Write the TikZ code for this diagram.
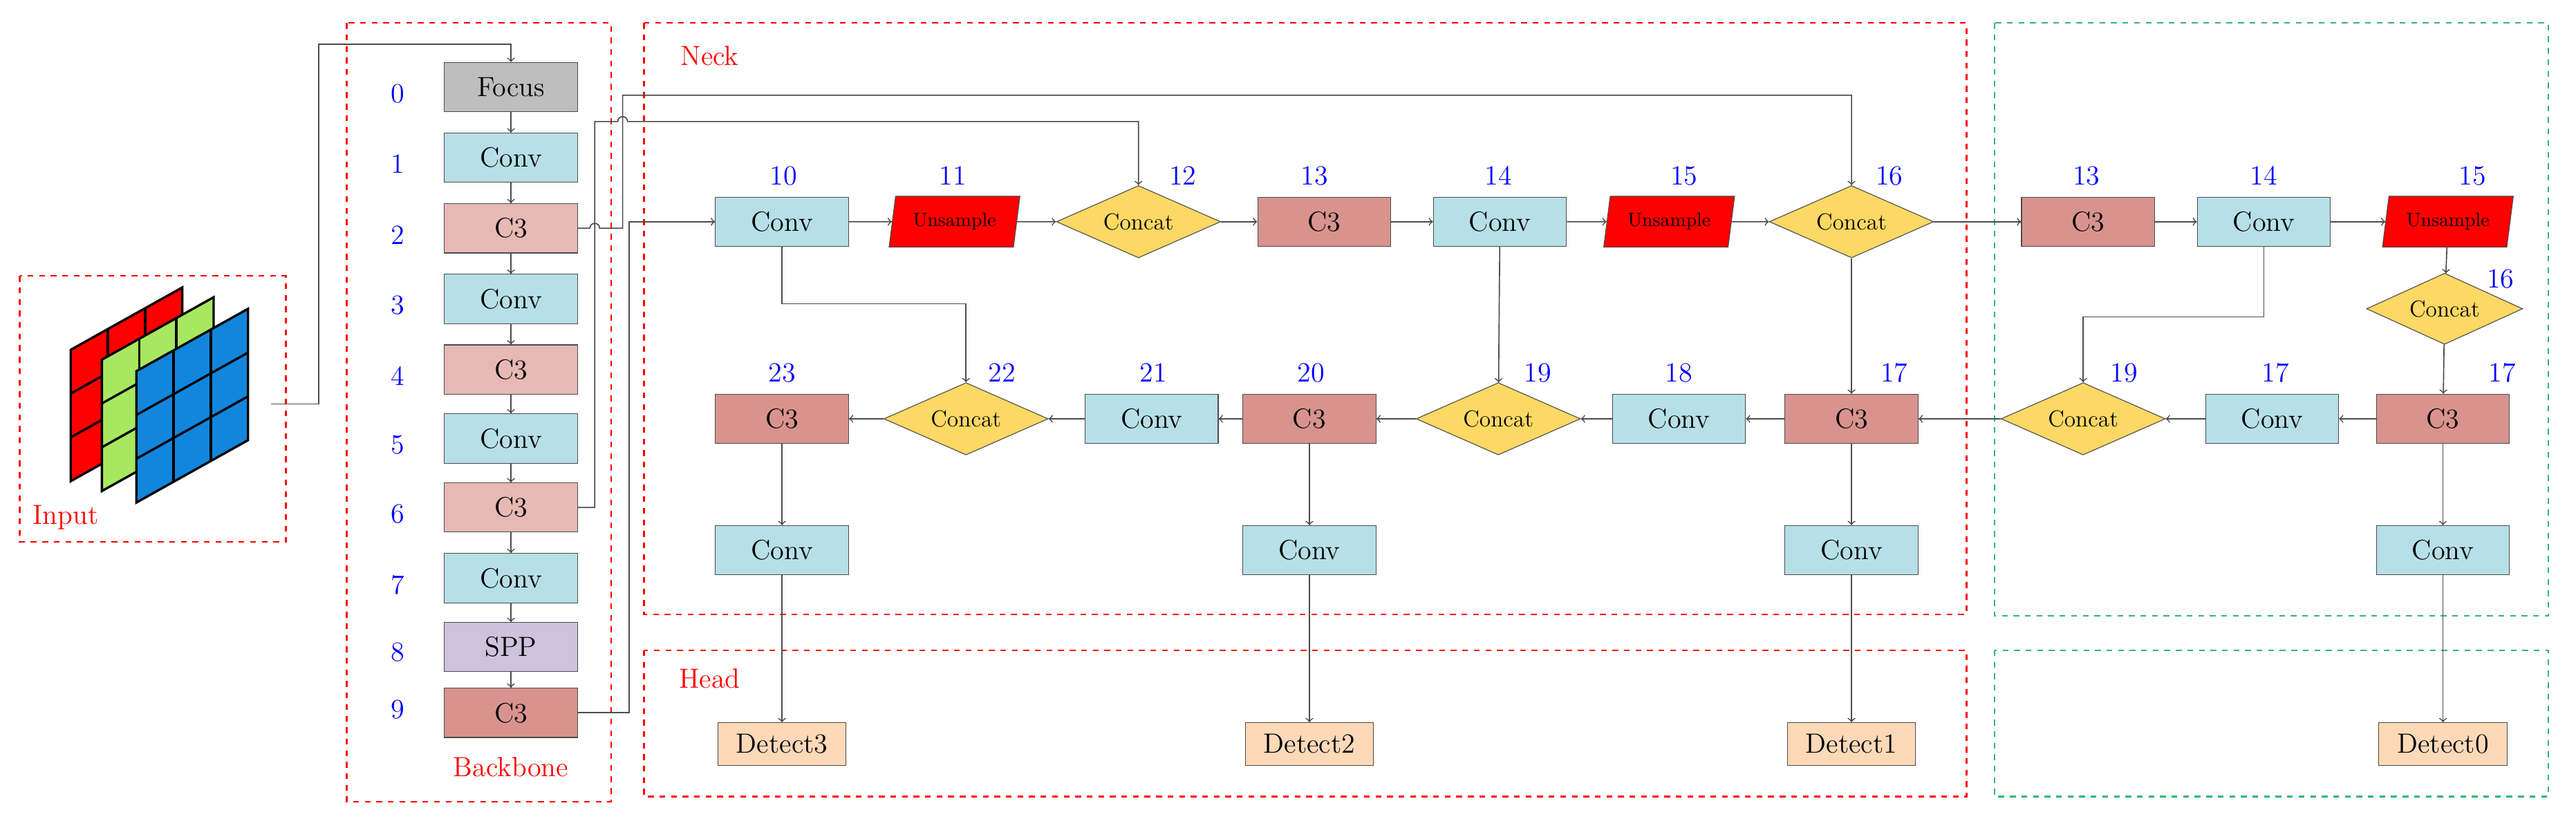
\documentclass[tikz,border=0pt]{standalone}
\usepackage{tikz}
\usetikzlibrary{shapes.geometric,arrows,calc}
\definecolor{convc}{HTML}{B7DFE8}
\definecolor{focc}{HTML}{BEBEBE}
\definecolor{cthree}{HTML}{E6B9B5}
\definecolor{cthreed}{HTML}{D8938E}
\definecolor{sppc}{HTML}{CDC3DC}
\definecolor{catc}{HTML}{FCD864}
\definecolor{detc}{HTML}{FDD9B8}
\definecolor{grnc}{HTML}{2EB872}
\definecolor{gridg}{HTML}{A8E860}
\definecolor{gridb}{HTML}{1286DC}
\tikzset{
  box/.style={draw=black!70, minimum width=2.43cm, minimum height=0.9cm, inner sep=0pt, font=\Large},
  conv/.style={box, fill=convc},
  cthr/.style={box, fill=cthree},
  cthrd/.style={box, fill=cthreed},
  cat/.style={diamond, draw=black!70, fill=catc, aspect=2.3, minimum width=3cm, minimum height=1.32cm, inner sep=0pt, font=\large},
  ups/.style={trapezium, trapezium left angle=75, trapezium right angle=105, trapezium stretches=true, draw=black!70, fill=red, minimum width=2.4cm, minimum height=0.93cm, inner sep=0pt, font=\normalsize},
  det/.style={box, fill=detc, minimum width=2.34cm, minimum height=0.78cm},
  num/.style={text=blue, font=\Large},
  lbl/.style={text=red, font=\Large},
  frame/.style={draw=red, dashed, line width=0.8pt},
  gframe/.style={draw=grnc, dashed, line width=0.8pt},
  line/.style={draw=black!70, line width=0.6pt, ->},
}
\begin{document}
\begin{tikzpicture}[x=0.03cm, y=-0.03cm]
\useasboundingbox (0,0) rectangle (1568,504);

% frames
\draw[frame] (12,168) rectangle (174,330);
\draw[frame] (211,14) rectangle (372,488);
\draw[frame] (392,14) rectangle (1197,374);
\draw[frame] (392,396) rectangle (1197,485);
\draw[gframe] (1214,14) rectangle (1551,375);
\draw[gframe] (1214,396) rectangle (1551,485);
\node[lbl] (linput) at (40,315) {Input};
\node[lbl] (lback) at (311,467) {Backbone};
\node[lbl] (lneck) at (432,34) {Neck};
\node[lbl] (lhead) at (432,413) {Head};

% input image
\foreach \ox/\oy/\col in {43/213/red, 62/219/gridg, 83/226/gridb}{
  \begin{scope}[shift={(\ox,\oy)}, x={(0.68cm,0.38cm)}, y={(0cm,-0.8cm)}]
    \draw[fill=\col, line width=1.2pt] (0,0) -- (3,0) -- (3,3) -- (0,3) -- cycle;
    \foreach \i in {1,2}{
      \draw[line width=1.2pt] (\i,0) -- (\i,3);
      \draw[line width=1.2pt] (0,\i) -- (3,\i);
    }
  \end{scope}
}
\coordinate (img) at (165,246);

% backbone
\node[box, fill=focc] (b0) at (311,53) {Focus};
\node[conv] (b1) at (311,96) {Conv};
\node[cthr] (b2) at (311,139) {C3};
\node[conv] (b3) at (311,182) {Conv};
\node[cthr] (b4) at (311,225) {C3};
\node[conv] (b5) at (311,267) {Conv};
\node[cthr] (b6) at (311,309) {C3};
\node[conv] (b7) at (311,352) {Conv};
\node[box, fill=sppc] (b8) at (311,394) {SPP};
\node[cthrd] (b9) at (311,434) {C3};
\foreach \i/\y in {0/57,1/100,2/143,3/186,4/229,5/271,6/313,7/356,8/397,9/432}{
  \node[num] (nb\i) at (242,\y) {\i};
}
\foreach \a/\b in {0/1,1/2,2/3,3/4,4/5,5/6,6/7,7/8,8/9}{
  \draw[line] (b\a) -- (b\b);
}
\draw[line] (img) -- (194,246) -- (194,27) -| (b0.north);

% neck top row
\node[conv] (n10) at (476,135) {Conv};
\node[ups] (n11) at (581,135) {Unsample};
\node[cat] (n12) at (693,135) {Concat};
\node[cthrd] (n13) at (806,135) {C3};
\node[conv] (n14) at (913,135) {Conv};
\node[ups] (n15) at (1016,135) {Unsample};
\node[cat] (n16) at (1127,135) {Concat};
% green top row
\node[cthrd] (g13) at (1271,135) {C3};
\node[conv] (g14) at (1378,135) {Conv};
\node[ups] (g15) at (1490,135) {Unsample};
\node[cat, minimum width=2.85cm, minimum height=1.3cm] (g16) at (1488,188) {Concat};
% bottom row
\node[cthrd] (n23) at (476,255) {C3};
\node[cat] (n22) at (588,255) {Concat};
\node[conv] (n21) at (701,255) {Conv};
\node[cthrd] (n20) at (797,255) {C3};
\node[cat] (n19) at (912,255) {Concat};
\node[conv] (n18) at (1022,255) {Conv};
\node[cthrd] (n17) at (1127,255) {C3};
\node[cat] (g19) at (1268,255) {Concat};
\node[conv] (g17) at (1383,255) {Conv};
\node[cthrd] (g17b) at (1487,255) {C3};
% head convs and detects
\node[conv] (h3) at (476,335) {Conv};
\node[conv] (h2) at (797,335) {Conv};
\node[conv] (h1) at (1127,335) {Conv};
\node[conv] (h0) at (1487,335) {Conv};
\node[det] (d3) at (476,453) {Detect3};
\node[det] (d2) at (797,453) {Detect2};
\node[det] (d1) at (1127,453) {Detect1};
\node[det] (d0) at (1487,453) {Detect0};

% layer numbers
\node[num] (l10) at (477,107) {10};
\node[num] (l11) at (580,107) {11};
\node[num] (l12) at (720,107) {12};
\node[num] (l13) at (800,107) {13};
\node[num] (l14) at (912,107) {14};
\node[num] (l15) at (1025,107) {15};
\node[num] (l16) at (1150,107) {16};
\node[num] (lg13) at (1270,107) {13};
\node[num] (lg14) at (1378,107) {14};
\node[num] (lg15) at (1505,107) {15};
\node[num] (lg16) at (1522,170) {16};
\node[num] (lg17b) at (1523,227) {17};
\node[num] (l23) at (476,227) {23};
\node[num] (l22) at (610,227) {22};
\node[num] (l21) at (702,227) {21};
\node[num] (l20) at (798,227) {20};
\node[num] (l19) at (936,227) {19};
\node[num] (l18) at (1022,227) {18};
\node[num] (l17) at (1153,227) {17};
\node[num] (lg19) at (1293,227) {19};
\node[num] (lg17) at (1385,227) {17};

% chains
\draw[line] (n10) -- (n11);
\draw[line] (n11) -- (n12);
\draw[line] (n12) -- (n13);
\draw[line] (n13) -- (n14);
\draw[line] (n14) -- (n15);
\draw[line] (n15) -- (n16);
\draw[line] (n16) -- (g13);
\draw[line] (g13) -- (g14);
\draw[line] (g14) -- (g15);
\draw[line] (g15) -- (g16);
\draw[line] (g16) -- (g17b);
\draw[line] (g17b) -- (g17);
\draw[line] (g17) -- (g19);
\draw[line] (g19) -- (n17);
\draw[line] (n17) -- (n18);
\draw[line] (n18) -- (n19);
\draw[line] (n19) -- (n20);
\draw[line] (n20) -- (n21);
\draw[line] (n21) -- (n22);
\draw[line] (n22) -- (n23);
\draw[line] (n16) -- (n17);
\draw[line] (n14) -- (n19);
\draw[line] (n10.south) -- (476,185) -| (n22.north);
\draw[line] (g14.south) -- (1378,193) -| (g19.north);
\draw[line] (n23) -- (h3);
\draw[line] (n20) -- (h2);
\draw[line] (n17) -- (h1);
\draw[line] (g17b) -- (h0);
\draw[line] (h3) -- (d3);
\draw[line] (h2) -- (d2);
\draw[line] (h1) -- (d1);
\draw[line] (h0) -- (d0);

% backbone to neck
\draw[line] (b2.east) -- (359,139) arc (180:360:3) -- (379,139) -- (379,58) -| (n16.north);
\draw[line] (b6.east) -- (362,309) -- (362,74) -- (376,74) arc (180:360:3) -| (n12.north);
\draw[line] (b9.east) -- (383,434) -- (383,135) -- (n10.west);
\end{tikzpicture}
\end{document}
